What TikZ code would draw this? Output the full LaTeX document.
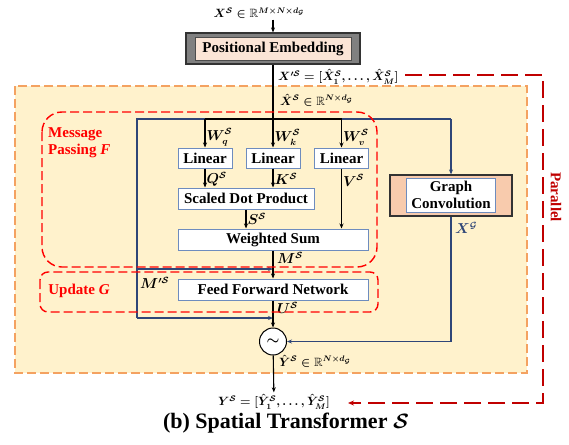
\documentclass[tikz,border=0pt]{standalone}
\usepackage{fontspec}
\setmainfont{Liberation Serif}
\usepackage{amsmath,amssymb}
\usetikzlibrary{arrows.meta}
\definecolor{navy}{RGB}{47,70,120}
\definecolor{boxblue}{RGB}{110,140,190}
\definecolor{cream}{RGB}{255,242,204}
\definecolor{orangeline}{RGB}{244,162,97}
\definecolor{peach}{RGB}{251,229,214}
\definecolor{salmon}{RGB}{248,203,173}
\definecolor{darkred}{RGB}{192,0,0}
\definecolor{pegray}{RGB}{128,128,128}
\begin{document}
\begin{tikzpicture}[x=1pt,y=-1pt,
  font=\fontsize{15}{17}\selectfont\bfseries\boldmath,
  line/.style={line width=1.1pt},
  arr/.style={line,-{Stealth[length=5pt,width=4pt]}},
  blu/.style={line,draw=navy},
  barr/.style={arr,draw=navy},
  box/.style={draw=boxblue,fill=white,line width=1pt,inner sep=0pt},
  lbl/.style={anchor=west,inner sep=1pt,font=\fontsize{13.5}{16}\selectfont\bfseries\boldmath},
  long/.style={lbl,font=\fontsize{12}{14}\selectfont\bfseries\boldmath},
  area/.style={draw=red,dash pattern=on 9pt off 4pt,line width=1.4pt},
  par/.style={draw=darkred,line width=2.2pt,dash pattern=on 17pt off 7pt}]
  \useasboundingbox (0,0) rectangle (569,444);
  \draw[fill=cream,draw=orangeline,dash pattern=on 9pt off 4pt,line width=1.4pt] (15,86) rectangle (527,373);

  \node[long,anchor=center] (xin) at (259,13) {$X^{\mathcal S}\in\mathbb{R}^{M\times N\times d_{\mathcal G}}$};
  \node[draw=black!80,fill=pegray,line width=1.2pt,minimum width=174pt,minimum height=31pt] (pe) at (273,48.5) {};
  \node[draw=black!70,fill=peach,line width=1pt,minimum width=156pt,minimum height=22pt,inner sep=0pt] (pein) at (273,49) {Positional Embedding};
  \foreach \name/\pos in {lq/205,lk/273,lv/341.5}
    \node[box,minimum width=54pt,minimum height=20pt] (\name) at (\pos,158) {Linear};
  \node[box,minimum width=136pt,minimum height=21pt] (sdp) at (246,198.5) {Scaled Dot Product};
  \node[box,minimum width=190pt,minimum height=21pt] (ws) at (273,239.5) {Weighted Sum};
  \node[box,minimum width=190pt,minimum height=21pt] (ffn) at (273,289.5) {Feed Forward Network};
  \node[draw=black!80,fill=salmon,line width=1.2pt,minimum width=122pt,minimum height=41pt] (gc) at (451,195.5) {};
  \node[box,minimum width=89pt,minimum height=34pt,align=center] (gcin) at (451,195) {Graph\\Convolution};
  \node[draw,circle,fill=white,line width=1pt,minimum size=27pt,inner sep=0pt] (circ) at (273,341.5) {$\sim$};
  \node[long,anchor=center,inner sep=2pt] (yout) at (274,402) {$Y^{\mathcal S}=[\hat Y_1^{\mathcal S},\ldots,\hat Y_M^{\mathcal S}]$};
  \node (cap) at (286,423) {\fontsize{22}{25}\selectfont(b) Spatial Transformer $\mathcal{S}$};

  \coordinate (tl) at (137,119);
  \coordinate (tr) at (451,119);
  \coordinate (ml) at (137,269);
  \coordinate (bl) at (137,318);

  \draw[arr] (xin.south -| pe) -- (pe);
  \draw[line] (pe) -- (lk |- tl);
  \node[long] (xp) at (277,77) {$X'^{\mathcal S}=[\hat X_1^{\mathcal S},\ldots,\hat X_M^{\mathcal S}]$};
  \node[long] (xh) at (279,100) {$\hat X^{\mathcal S}\in\mathbb{R}^{N\times d_{\mathcal G}}$};
  \draw[blu] (tr) -- (tl) -- (bl);
  \draw[line] (lq |- tl) -- (lv |- tl);
  \draw[barr] (tr) -- (gc);
  \draw[barr] (ml) -- (ml -| ws);
  \draw[barr] (bl) -- (bl -| circ);
  \draw[barr] (gc) |- (circ);
  \node[lbl,navy] (xg) at (454,228) {$X^{\mathcal G}$};
  \foreach \name/\lab in {lq/q,lk/k,lv/v}
    \draw[arr] (\name |- tl) -- (\name) node[lbl,pos=0.65] {$W_{\lab}^{\mathcal S}$};
  \foreach \src/\tgt/\lab/\p in {lq/sdp/Q/0.55,lk/sdp/K/0.55,lv/ws/V/0.2}
    \draw[arr] (\src) -- (\src |- \tgt.north) node[lbl,pos=\p] {$\lab^{\mathcal S}$};
  \draw[arr] (sdp) -- (sdp |- ws.north) node[lbl,midway] {$S^{\mathcal S}$};
  \draw[arr] (ws) -- (ffn);
  \node[lbl] (ms) at (276,258) {$M^{\mathcal S}$};
  \node[lbl] (mps) at (139,283) {$M'^{\mathcal S}$};
  \draw[arr] (ffn) -- (circ);
  \node[lbl] (us) at (276,308) {$U^{\mathcal S}$};
  \draw[arr] (circ) -- (yout);
  \node[long] (yh) at (278,361) {$\hat Y^{\mathcal S}\in\mathbb{R}^{N\times d_{\mathcal G}}$};

  \draw[area,rounded corners=20pt] (42,112) rectangle (377,267);
  \draw[area,rounded corners=8pt] (40,272) rectangle (378,312);
  \node[red,anchor=north west,align=left,inner sep=0pt] (mp) at (48,127) {Message\\Passing \textit{F}};
  \node[red] (up) at (79,291) {Update \textit{G}};

  \coordinate (p1) at (405,75);
  \coordinate (p2) at (543,75);
  \coordinate (p3) at (543,403);
  \coordinate (p4) at (348,403);
  \draw[par,-{Stealth[length=6pt,width=5pt]}] (p1) -- (p2) -- (p3) -- (p4);
  \node[rotate=-90,darkred] (par) at (556,197) {Parallel};
\end{tikzpicture}
\end{document}
